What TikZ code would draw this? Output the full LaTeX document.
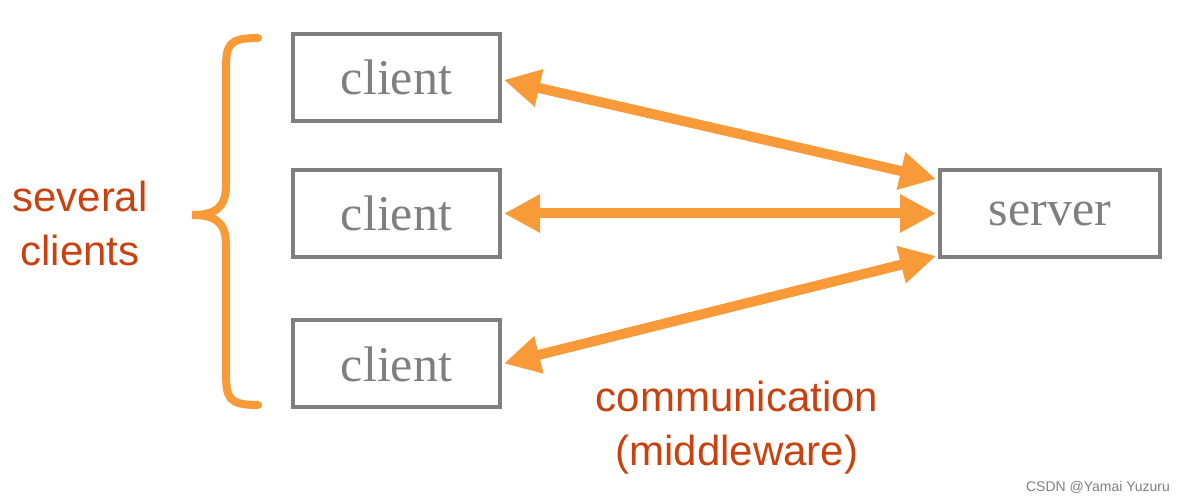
\documentclass[tikz,border=0pt]{standalone}
\usepackage{fontspec}
\setmainfont{Liberation Serif}
\setsansfont{Liberation Sans}
\usetikzlibrary{arrows.meta}
\definecolor{og}{HTML}{F89A38}
\definecolor{gb}{HTML}{7F7F7F}
\definecolor{rd}{HTML}{C8410E}
\begin{document}
\begin{tikzpicture}[x=0.5pt,y=-0.5pt,
  box/.style={draw=gb,line width=2pt,text=gb,font=\fontsize{25}{28}\selectfont,inner sep=0pt},
  conn/.style={og,line width=5pt,{Triangle[length=18pt,width=18pt]}-{Triangle[length=18pt,width=18pt]},shorten <=1pt,shorten >=1pt},
  lab/.style={text=rd,font=\sffamily\fontsize{21}{27}\selectfont,align=center}]
\useasboundingbox (0,0) rectangle (1185,502);
\node[box,minimum width=103.5pt,minimum height=43.5pt] (c1) at (396.5,77.5) {client};
\node[box,minimum width=103.5pt,minimum height=43.5pt] (c2) at (396.5,213.5) {client};
\node[box,minimum width=103.5pt,minimum height=43.5pt] (c3) at (396.5,364) {client};
\node[box,minimum width=110pt,minimum height=43.5pt] (s) at (1050,213.5) {server};
\coordinate (s1) at ([yshift=17pt]s.west);
\coordinate (s3) at ([yshift=-21pt]s.west);
\coordinate (c1e) at ([yshift=-1pt]c1.east);
\draw[conn] (c1e) -- (s1);
\draw[conn] (c2.east) -- (s.west);
\draw[conn] (c3.east) -- (s3);
\draw[og,line width=4pt,line cap=round]
  (258,38) .. controls (228,38) and (226,45) .. (226,70) -- (226,185)
  .. controls (226,208) and (215,215) .. (192,215)
  .. controls (215,215) and (226,222) .. (226,245) -- (226,372)
  .. controls (226,398) and (228,405) .. (258,405);
\node[lab] (sev) at (80,223) {several\\clients};
\node[lab] (com) at (737,428) {communication\\(middleware)};
\node[text=gb,font=\sffamily\fontsize{7}{8}\selectfont] (wm) at (1098,487) {CSDN @Yamai Yuzuru};
\end{tikzpicture}
\end{document}
